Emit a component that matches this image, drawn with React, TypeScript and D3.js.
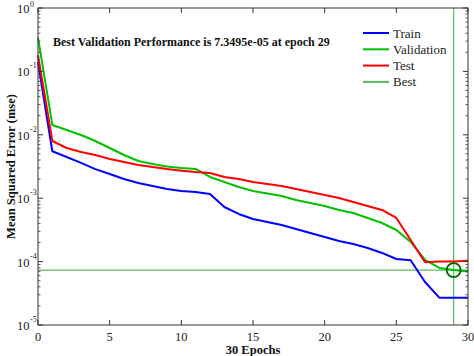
import React from "react";
import * as d3 from "d3";

const epochs = d3.range(0, 31);
const train = [0.14, 5.5e-3, 4.47e-3, 3.6e-3, 2.88e-3, 2.41e-3, 2.01e-3, 1.74e-3, 1.56e-3, 1.4e-3, 1.3e-3, 1.25e-3, 1.16e-3, 7.26e-4, 5.64e-4, 4.7e-4, 4.21e-4, 3.78e-4, 3.27e-4, 2.82e-4, 2.44e-4, 2.11e-4, 1.9e-4, 1.64e-4, 1.37e-4, 1.1e-4, 1.05e-4, 4.77e-5, 2.7e-5, 2.7e-5, 2.7e-5];
const validation = [0.34, 1.43e-2, 1.19e-2, 9.93e-3, 7.98e-3, 6.19e-3, 4.8e-3, 3.86e-3, 3.47e-3, 3.16e-3, 2.99e-3, 2.89e-3, 2.16e-3, 1.8e-3, 1.5e-3, 1.3e-3, 1.19e-3, 1.08e-3, 9.37e-4, 8.4e-4, 7.53e-4, 6.52e-4, 5.85e-4, 4.88e-4, 4.06e-4, 3.15e-4, 2.04e-4, 1.06e-4, 7.93e-5, 7.3495e-5, 7.0e-5];
const test = [0.18, 7.98e-3, 6.19e-3, 5.36e-3, 4.8e-3, 4.15e-3, 3.72e-3, 3.34e-3, 3.11e-3, 2.89e-3, 2.72e-3, 2.59e-3, 2.5e-3, 2.16e-3, 2.01e-3, 1.8e-3, 1.68e-3, 1.56e-3, 1.4e-3, 1.25e-3, 1.12e-3, 1.01e-3, 8.71e-4, 7.53e-4, 6.52e-4, 4.88e-4, 2.19e-4, 9.8e-5, 1.0e-4, 1.0e-4, 1.03e-4];
const bestEpoch = 29;
const bestValue = 7.3495e-5;
const xTicks = [0, 5, 10, 15, 20, 25, 30];
const yDecades = [0, -1, -2, -3, -4, -5];
const legendNames = ["Train", "Validation", "Test", "Best"];
const title = "Best Validation Performance is 7.3495e-05 at epoch 29";
const xLabel = "30 Epochs";
const yLabel = "Mean Squared Error  (mse)";

const W = 474, H = 356;
const L = 38, R = 468, T = 8, B = 325;
const font = "Liberation Serif";

export default function App() {
  const x = d3.scaleLinear().domain([0, 30]).range([L, R]);
  const y = d3.scaleLog().domain([1e-5, 1]).range([B, T]);
  const line = d3.line<number>().x((_, i) => x(epochs[i])).y((d) => y(d));
  const series = [
    { name: "Train", data: train, color: "#0000ff" },
    { name: "Validation", data: validation, color: "#00c000" },
    { name: "Test", data: test, color: "#ff0000" },
  ];
  const legendColors = ["#0000ff", "#00c000", "#ff0000", "#5cb85c"];
  const minor: number[] = [];
  for (let e = -5; e < 0; e++) for (let k = 2; k <= 9; k++) minor.push(k * Math.pow(10, e));
  const axisColor = "#333";
  return (
    <svg width={W} height={H} style={{ position: "absolute", left: 0, top: 0, background: "#fff" }} fontFamily={font}>
      <rect x={L} y={T} width={R - L} height={B - T} fill="#fff" stroke="none" />
      <line x1={L} x2={R} y1={y(bestValue)} y2={y(bestValue)} stroke="#5cb85c" strokeWidth={1.2} />
      <line x1={x(bestEpoch)} x2={x(bestEpoch)} y1={T} y2={B} stroke="#5cb85c" strokeWidth={1.2} />
      {series.map((s) => (
        <path key={s.name} d={line(s.data) || ""} fill="none" stroke={s.color} strokeWidth={2} strokeLinejoin="round" />
      ))}
      <circle cx={x(bestEpoch)} cy={y(bestValue)} r={7} fill="none" stroke="#006400" strokeWidth={1.8} />
      <rect x={L} y={T} width={R - L} height={B - T} fill="none" stroke={axisColor} strokeWidth={1} />
      {xTicks.map((t) => (
        <g key={"x" + t}>
          <line x1={x(t)} x2={x(t)} y1={B} y2={B - 5} stroke={axisColor} />
          <line x1={x(t)} x2={x(t)} y1={T} y2={T + 5} stroke={axisColor} />
          <text x={x(t)} y={B + 16} textAnchor="middle" fontSize={12.5} fill="#222">{t}</text>
        </g>
      ))}
      {yDecades.map((e) => (
        <g key={"y" + e}>
          <line x1={L} x2={L + 5} y1={y(Math.pow(10, e))} y2={y(Math.pow(10, e))} stroke={axisColor} />
          <line x1={R} x2={R - 5} y1={y(Math.pow(10, e))} y2={y(Math.pow(10, e))} stroke={axisColor} />
          <text x={L - 21} y={y(Math.pow(10, e)) + 5} textAnchor="start" fontSize={12.5} fill="#222">10</text>
          <text x={L - 8} y={y(Math.pow(10, e)) - (e === 0 ? 1 : 3)} textAnchor="start" fontSize={8} fill="#222">{e === 0 ? "0" : "-" + Math.abs(e)}</text>
        </g>
      ))}
      {minor.map((v, i) => (
        <g key={"m" + i}>
          <line x1={L} x2={L + 2.5} y1={y(v)} y2={y(v)} stroke={axisColor} strokeWidth={0.8} />
          <line x1={R} x2={R - 2.5} y1={y(v)} y2={y(v)} stroke={axisColor} strokeWidth={0.8} />
        </g>
      ))}
      <text x={53} y={46} fontSize={12} fontWeight="bold" fill="#111">{title}</text>
      {legendNames.map((n, i) => (
        <g key={n}>
          <line x1={363} x2={389} y1={33 + i * 16.3} y2={33 + i * 16.3} stroke={legendColors[i]} strokeWidth={2} />
          <text x={393} y={33 + i * 16.3 + 4.5} fontSize={13} fill="#222">{n}</text>
        </g>
      ))}
      <text x={(L + R) / 2} y={354} textAnchor="middle" fontSize={12.5} fontWeight="bold" fill="#111">{xLabel}</text>
      <text transform={`translate(15, ${(T + B) / 2}) rotate(-90)`} textAnchor="middle" fontSize={12.5} fontWeight="bold" fill="#111">{yLabel}</text>
    </svg>
  );
}
